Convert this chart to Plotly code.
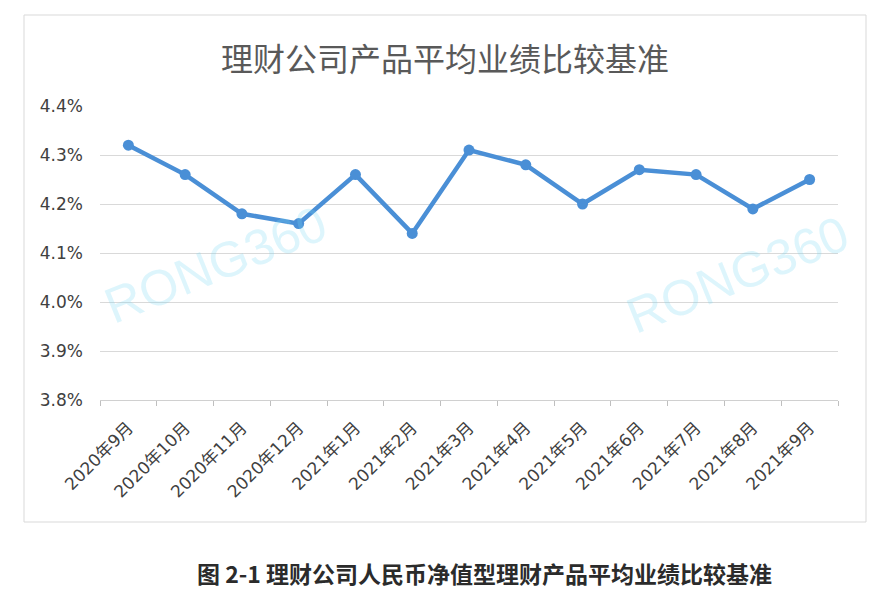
import plotly.graph_objects as go

categories = ["2020年9月", "2020年10月", "2020年11月", "2020年12月", "2021年1月", "2021年2月",
              "2021年3月", "2021年4月", "2021年5月", "2021年6月", "2021年7月", "2021年8月", "2021年9月"]
values = [4.32, 4.26, 4.18, 4.16, 4.26, 4.14, 4.31, 4.28, 4.20, 4.27, 4.26, 4.19, 4.25]
y_ticks = [3.8, 3.9, 4.0, 4.1, 4.2, 4.3, 4.4]
y_tick_text = ["3.8%", "3.9%", "4.0%", "4.1%", "4.2%", "4.3%", "4.4%"]

title = "理财公司产品平均业绩比较基准"
caption = "图 2-1 理财公司人民币净值型理财产品平均业绩比较基准"
watermark = "RONG360"

W, H = 892, 596
L, R, T, B = 100, 54, 106, 196
pw, ph = W - L - R, H - T - B

def px(x):
    return (x - L) / pw

def py(y):
    return (H - B - y) / ph

CJK = "Noto Sans CJK SC"
TICKFONT = "DejaVu Sans, Noto Sans CJK SC"

fig = go.Figure()
fig.add_trace(go.Scatter(
    x=categories, y=values, mode="lines+markers",
    line=dict(color="#4A8FD6", width=4.5),
    marker=dict(color="#4A8FD6", size=11),
    hoverinfo="skip", showlegend=False,
))

fig.update_layout(
    width=W, height=H,
    margin=dict(l=L, r=R, t=T, b=B),
    paper_bgcolor="white", plot_bgcolor="white",
    font=dict(family=CJK, color="#595959"),
    xaxis=dict(
        type="category", range=[-0.5, 12.5],
        tickangle=-45, tickfont=dict(size=17, color="#404040", family=TICKFONT),
        ticks="outside", tickson="boundaries", ticklen=5, tickcolor="#bfbfbf",
        ticklabelstandoff=10,
        showline=True, linecolor="#d0d0d0", linewidth=1,
        showgrid=False, zeroline=False, fixedrange=True,
    ),
    yaxis=dict(
        range=[3.8, 4.4], tickvals=y_ticks, ticktext=y_tick_text,
        tickfont=dict(size=17, color="#404040", family=TICKFONT),
        showgrid=True, gridcolor="#d9d9d9", gridwidth=1,
        showline=False, zeroline=False, ticks="", ticklabelstandoff=16,
        fixedrange=True,
    ),
    shapes=[dict(
        type="rect", xref="paper", yref="paper",
        x0=px(24), x1=px(866), y0=py(522), y1=py(15),
        line=dict(color="#d9d9d9", width=1), fillcolor="rgba(0,0,0,0)", layer="below",
    )],
    annotations=[
        dict(text=title, xref="paper", yref="paper", x=px(445), y=py(57),
             showarrow=False, xanchor="center", yanchor="middle",
             font=dict(size=32, color="#595959", family=CJK)),
        dict(text="<b>" + caption + "</b>", xref="paper", yref="paper", x=px(484), y=py(573),
             showarrow=False, xanchor="center", yanchor="middle",
             font=dict(size=23, color="#2b2b2b", family=CJK)),
        dict(text=watermark, xref="paper", yref="paper", x=px(215), y=py(265),
             showarrow=False, xanchor="center", yanchor="middle", textangle=-22,
             font=dict(size=50, color="rgba(120,215,245,0.25)", family="Liberation Sans")),
        dict(text=watermark, xref="paper", yref="paper", x=px(737), y=py(275),
             showarrow=False, xanchor="center", yanchor="middle", textangle=-22,
             font=dict(size=50, color="rgba(120,215,245,0.25)", family="Liberation Sans")),
    ],
)

fig.write_html("out.html")
